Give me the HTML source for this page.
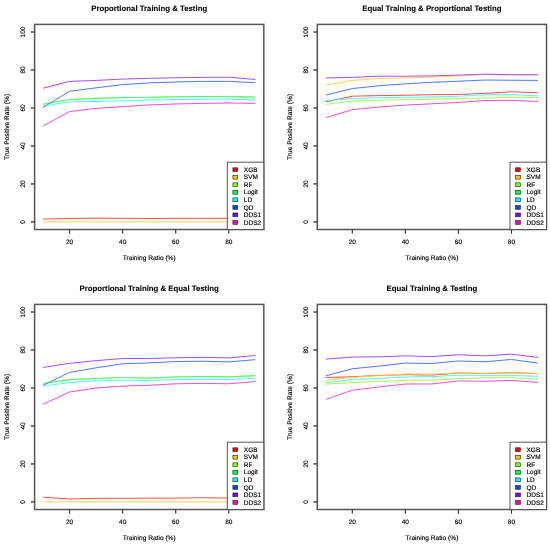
<!DOCTYPE html>
<html><head><meta charset="utf-8"><style>
html,body{margin:0;padding:0;background:#fff;}
svg{display:block;}
text{text-rendering:geometricPrecision;font-family:"Liberation Sans",Arial,sans-serif;fill:#000;stroke:#000;stroke-width:0.15px;}
text.t{stroke-width:0.08px;}
</style></head><body>
<svg width="550" height="546" viewBox="0 0 550 546">

<rect width="550" height="546" fill="#fff"/>
<text x="149.20" y="10.80" class="t" font-size="7.8" font-weight="bold" text-anchor="middle">Proportional Training &amp; Testing</text>
<polyline points="43.09,219.06 69.62,218.49 96.14,218.11 122.67,218.30 149.20,218.49 175.73,218.30 202.26,218.30 228.78,218.30 255.31,218.49" fill="none" stroke="#ff4c4c" stroke-width="1.0" stroke-linejoin="round"/>
<polyline points="43.09,221.90 69.62,221.90 96.14,221.90 122.67,221.90 149.20,221.90 175.73,221.90 202.26,221.90 228.78,221.90 255.31,221.90" fill="none" stroke="#ffd24c" stroke-width="1.0" stroke-linejoin="round"/>
<polyline points="43.09,104.16 69.62,99.79 96.14,98.27 122.67,97.70 149.20,97.32 175.73,96.75 202.26,96.56 228.78,96.56 255.31,98.08" fill="none" stroke="#a6ff4c" stroke-width="1.0" stroke-linejoin="round"/>
<polyline points="43.09,104.16 69.62,99.60 96.14,98.27 122.67,97.70 149.20,97.32 175.73,96.75 202.26,96.56 228.78,96.37 255.31,96.94" fill="none" stroke="#4cff79" stroke-width="1.0" stroke-linejoin="round"/>
<polyline points="43.09,106.06 69.62,101.88 96.14,101.50 122.67,100.74 149.20,99.98 175.73,99.70 202.26,99.22 228.78,99.03 255.31,99.98" fill="none" stroke="#4cffff" stroke-width="1.0" stroke-linejoin="round"/>
<polyline points="43.09,107.39 69.62,91.25 96.14,87.83 122.67,84.60 149.20,82.89 175.73,81.94 202.26,81.37 228.78,81.37 255.31,82.70" fill="none" stroke="#4c79ff" stroke-width="1.0" stroke-linejoin="round"/>
<polyline points="43.09,88.21 69.62,81.37 96.14,80.42 122.67,79.09 149.20,78.33 175.73,77.76 202.26,77.38 228.78,77.19 255.31,79.47" fill="none" stroke="#a64cff" stroke-width="1.0" stroke-linejoin="round"/>
<polyline points="43.09,126.00 69.62,111.57 96.14,108.34 122.67,106.63 149.20,104.92 175.73,103.97 202.26,103.40 228.78,103.02 255.31,103.40" fill="none" stroke="#ff4cd2" stroke-width="1.0" stroke-linejoin="round"/>
<rect x="34.60" y="24.40" width="229.20" height="205.10" fill="none" stroke="#555" stroke-width="1.5"/>
<line x1="69.62" y1="229.50" x2="69.62" y2="233.80" stroke="#333" stroke-width="1.1"/>
<text x="69.62" y="244.00" font-size="6.5" text-anchor="middle">20</text>
<line x1="122.67" y1="229.50" x2="122.67" y2="233.80" stroke="#333" stroke-width="1.1"/>
<text x="122.67" y="244.00" font-size="6.5" text-anchor="middle">40</text>
<line x1="175.73" y1="229.50" x2="175.73" y2="233.80" stroke="#333" stroke-width="1.1"/>
<text x="175.73" y="244.00" font-size="6.5" text-anchor="middle">60</text>
<line x1="228.78" y1="229.50" x2="228.78" y2="233.80" stroke="#333" stroke-width="1.1"/>
<text x="228.78" y="244.00" font-size="6.5" text-anchor="middle">80</text>
<line x1="30.70" y1="221.90" x2="34.60" y2="221.90" stroke="#333" stroke-width="1.3"/>
<text transform="translate(24.80,221.90) rotate(-90)" font-size="6.5" text-anchor="middle">0</text>
<line x1="30.70" y1="183.92" x2="34.60" y2="183.92" stroke="#333" stroke-width="1.3"/>
<text transform="translate(24.80,183.92) rotate(-90)" font-size="6.5" text-anchor="middle">20</text>
<line x1="30.70" y1="145.94" x2="34.60" y2="145.94" stroke="#333" stroke-width="1.3"/>
<text transform="translate(24.80,145.94) rotate(-90)" font-size="6.5" text-anchor="middle">40</text>
<line x1="30.70" y1="107.96" x2="34.60" y2="107.96" stroke="#333" stroke-width="1.3"/>
<text transform="translate(24.80,107.96) rotate(-90)" font-size="6.5" text-anchor="middle">60</text>
<line x1="30.70" y1="69.98" x2="34.60" y2="69.98" stroke="#333" stroke-width="1.3"/>
<text transform="translate(24.80,69.98) rotate(-90)" font-size="6.5" text-anchor="middle">80</text>
<line x1="30.70" y1="32.00" x2="34.60" y2="32.00" stroke="#333" stroke-width="1.3"/>
<text transform="translate(24.80,32.00) rotate(-90)" font-size="6.5" text-anchor="middle">100</text>
<text x="149.20" y="259.80" font-size="6.6" text-anchor="middle">Training Ratio (%)</text>
<text transform="translate(8.80,126.95) rotate(-90)" font-size="6.6" text-anchor="middle">True Positive Rate (%)</text>
<rect x="227.30" y="162.20" width="36.50" height="67.30" fill="#fff" stroke="#555" stroke-width="1"/>
<rect x="232.90" y="167.80" width="4.8" height="3.8" fill="#FF0000" stroke="#222" stroke-width="0.6"/>
<text x="243.80" y="171.90" font-size="6.5">XGB</text>
<rect x="232.90" y="175.33" width="4.8" height="3.8" fill="#FFBF00" stroke="#222" stroke-width="0.6"/>
<text x="243.80" y="179.43" font-size="6.5">SVM</text>
<rect x="232.90" y="182.86" width="4.8" height="3.8" fill="#80FF00" stroke="#222" stroke-width="0.6"/>
<text x="243.80" y="186.96" font-size="6.5">RF</text>
<rect x="232.90" y="190.39" width="4.8" height="3.8" fill="#00FF40" stroke="#222" stroke-width="0.6"/>
<text x="243.80" y="194.49" font-size="6.5">Logit</text>
<rect x="232.90" y="197.92" width="4.8" height="3.8" fill="#00FFFF" stroke="#222" stroke-width="0.6"/>
<text x="243.80" y="202.02" font-size="6.5">LD</text>
<rect x="232.90" y="205.45" width="4.8" height="3.8" fill="#0040FF" stroke="#222" stroke-width="0.6"/>
<text x="243.80" y="209.55" font-size="6.5">QD</text>
<rect x="232.90" y="212.98" width="4.8" height="3.8" fill="#8000FF" stroke="#222" stroke-width="0.6"/>
<text x="243.80" y="217.08" font-size="6.5">DDS1</text>
<rect x="232.90" y="220.51" width="4.8" height="3.8" fill="#FF00BF" stroke="#222" stroke-width="0.6"/>
<text x="243.80" y="224.61" font-size="6.5">DDS2</text>
<text x="431.90" y="10.80" class="t" font-size="7.8" font-weight="bold" text-anchor="middle">Equal Training &amp; Proportional Testing</text>
<polyline points="325.79,101.88 352.32,96.19 378.84,95.62 405.37,95.24 431.90,94.67 458.43,94.48 484.96,93.34 511.48,91.82 538.01,92.77" fill="none" stroke="#ff4c4c" stroke-width="1.0" stroke-linejoin="round"/>
<polyline points="325.79,84.98 352.32,80.42 378.84,78.52 405.37,77.95 431.90,77.19 458.43,75.86 484.96,74.54 511.48,74.92 538.01,74.92" fill="none" stroke="#ffd24c" stroke-width="1.0" stroke-linejoin="round"/>
<polyline points="325.79,104.35 352.32,101.12 378.84,100.36 405.37,99.60 431.90,99.22 458.43,98.46 484.96,98.08 511.48,97.32 538.01,97.70" fill="none" stroke="#a6ff4c" stroke-width="1.0" stroke-linejoin="round"/>
<polyline points="325.79,100.55 352.32,98.46 378.84,97.70 405.37,97.32 431.90,96.94 458.43,96.19 484.96,94.86 511.48,94.67 538.01,95.81" fill="none" stroke="#4cffff" stroke-width="1.0" stroke-linejoin="round"/>
<polyline points="325.79,95.05 352.32,88.59 378.84,85.74 405.37,83.84 431.90,82.32 458.43,81.18 484.96,80.04 511.48,80.23 538.01,80.42" fill="none" stroke="#4c79ff" stroke-width="1.0" stroke-linejoin="round"/>
<polyline points="325.79,77.95 352.32,77.38 378.84,76.24 405.37,76.24 431.90,75.86 458.43,75.11 484.96,74.16 511.48,74.73 538.01,74.73" fill="none" stroke="#a64cff" stroke-width="1.0" stroke-linejoin="round"/>
<polyline points="325.79,117.64 352.32,109.67 378.84,107.01 405.37,105.11 431.90,103.78 458.43,102.45 484.96,100.55 511.48,100.36 538.01,101.50" fill="none" stroke="#ff4cd2" stroke-width="1.0" stroke-linejoin="round"/>
<rect x="317.30" y="24.40" width="229.20" height="205.10" fill="none" stroke="#555" stroke-width="1.5"/>
<line x1="352.32" y1="229.50" x2="352.32" y2="233.80" stroke="#333" stroke-width="1.1"/>
<text x="352.32" y="244.00" font-size="6.5" text-anchor="middle">20</text>
<line x1="405.37" y1="229.50" x2="405.37" y2="233.80" stroke="#333" stroke-width="1.1"/>
<text x="405.37" y="244.00" font-size="6.5" text-anchor="middle">40</text>
<line x1="458.43" y1="229.50" x2="458.43" y2="233.80" stroke="#333" stroke-width="1.1"/>
<text x="458.43" y="244.00" font-size="6.5" text-anchor="middle">60</text>
<line x1="511.48" y1="229.50" x2="511.48" y2="233.80" stroke="#333" stroke-width="1.1"/>
<text x="511.48" y="244.00" font-size="6.5" text-anchor="middle">80</text>
<line x1="313.40" y1="221.90" x2="317.30" y2="221.90" stroke="#333" stroke-width="1.3"/>
<text transform="translate(307.50,221.90) rotate(-90)" font-size="6.5" text-anchor="middle">0</text>
<line x1="313.40" y1="183.92" x2="317.30" y2="183.92" stroke="#333" stroke-width="1.3"/>
<text transform="translate(307.50,183.92) rotate(-90)" font-size="6.5" text-anchor="middle">20</text>
<line x1="313.40" y1="145.94" x2="317.30" y2="145.94" stroke="#333" stroke-width="1.3"/>
<text transform="translate(307.50,145.94) rotate(-90)" font-size="6.5" text-anchor="middle">40</text>
<line x1="313.40" y1="107.96" x2="317.30" y2="107.96" stroke="#333" stroke-width="1.3"/>
<text transform="translate(307.50,107.96) rotate(-90)" font-size="6.5" text-anchor="middle">60</text>
<line x1="313.40" y1="69.98" x2="317.30" y2="69.98" stroke="#333" stroke-width="1.3"/>
<text transform="translate(307.50,69.98) rotate(-90)" font-size="6.5" text-anchor="middle">80</text>
<line x1="313.40" y1="32.00" x2="317.30" y2="32.00" stroke="#333" stroke-width="1.3"/>
<text transform="translate(307.50,32.00) rotate(-90)" font-size="6.5" text-anchor="middle">100</text>
<text x="431.90" y="259.80" font-size="6.6" text-anchor="middle">Training Ratio (%)</text>
<text transform="translate(291.50,126.95) rotate(-90)" font-size="6.6" text-anchor="middle">True Positive Rate (%)</text>
<rect x="510.00" y="162.20" width="36.50" height="67.30" fill="#fff" stroke="#555" stroke-width="1"/>
<rect x="515.60" y="167.80" width="4.8" height="3.8" fill="#FF0000" stroke="#222" stroke-width="0.6"/>
<text x="526.50" y="171.90" font-size="6.5">XGB</text>
<rect x="515.60" y="175.33" width="4.8" height="3.8" fill="#FFBF00" stroke="#222" stroke-width="0.6"/>
<text x="526.50" y="179.43" font-size="6.5">SVM</text>
<rect x="515.60" y="182.86" width="4.8" height="3.8" fill="#80FF00" stroke="#222" stroke-width="0.6"/>
<text x="526.50" y="186.96" font-size="6.5">RF</text>
<rect x="515.60" y="190.39" width="4.8" height="3.8" fill="#00FF40" stroke="#222" stroke-width="0.6"/>
<text x="526.50" y="194.49" font-size="6.5">Logit</text>
<rect x="515.60" y="197.92" width="4.8" height="3.8" fill="#00FFFF" stroke="#222" stroke-width="0.6"/>
<text x="526.50" y="202.02" font-size="6.5">LD</text>
<rect x="515.60" y="205.45" width="4.8" height="3.8" fill="#0040FF" stroke="#222" stroke-width="0.6"/>
<text x="526.50" y="209.55" font-size="6.5">QD</text>
<rect x="515.60" y="212.98" width="4.8" height="3.8" fill="#8000FF" stroke="#222" stroke-width="0.6"/>
<text x="526.50" y="217.08" font-size="6.5">DDS1</text>
<rect x="515.60" y="220.51" width="4.8" height="3.8" fill="#FF00BF" stroke="#222" stroke-width="0.6"/>
<text x="526.50" y="224.61" font-size="6.5">DDS2</text>
<text x="149.20" y="290.80" class="t" font-size="7.8" font-weight="bold" text-anchor="middle">Proportional Training &amp; Equal Testing</text>
<polyline points="43.09,497.16 69.62,499.06 96.14,498.30 122.67,498.30 149.20,498.11 175.73,498.11 202.26,497.73 228.78,498.11 255.31,498.11" fill="none" stroke="#ff4c4c" stroke-width="1.0" stroke-linejoin="round"/>
<polyline points="43.09,501.90 69.62,501.90 96.14,501.90 122.67,501.90 149.20,501.90 175.73,501.90 202.26,501.90 228.78,501.90 255.31,501.90" fill="none" stroke="#ffd24c" stroke-width="1.0" stroke-linejoin="round"/>
<polyline points="43.09,383.59 69.62,379.79 96.14,378.46 122.67,377.51 149.20,378.27 175.73,376.94 202.26,376.56 228.78,376.94 255.31,375.81" fill="none" stroke="#a6ff4c" stroke-width="1.0" stroke-linejoin="round"/>
<polyline points="43.09,383.40 69.62,379.60 96.14,378.46 122.67,377.51 149.20,378.08 175.73,376.94 202.26,376.56 228.78,376.75 255.31,375.62" fill="none" stroke="#4cff79" stroke-width="1.0" stroke-linejoin="round"/>
<polyline points="43.09,386.06 69.62,382.45 96.14,380.74 122.67,380.17 149.20,380.55 175.73,379.60 202.26,379.22 228.78,379.70 255.31,378.08" fill="none" stroke="#4cffff" stroke-width="1.0" stroke-linejoin="round"/>
<polyline points="43.09,385.30 69.62,372.39 96.14,367.83 122.67,363.75 149.20,362.89 175.73,361.56 202.26,361.18 228.78,361.94 255.31,359.66" fill="none" stroke="#4c79ff" stroke-width="1.0" stroke-linejoin="round"/>
<polyline points="43.09,367.45 69.62,363.27 96.14,360.61 122.67,358.52 149.20,358.52 175.73,357.76 202.26,357.38 228.78,357.95 255.31,355.49" fill="none" stroke="#a64cff" stroke-width="1.0" stroke-linejoin="round"/>
<polyline points="43.09,404.29 69.62,391.95 96.14,387.96 122.67,386.06 149.20,385.30 175.73,383.78 202.26,383.40 228.78,383.78 255.31,381.60" fill="none" stroke="#ff4cd2" stroke-width="1.0" stroke-linejoin="round"/>
<rect x="34.60" y="304.40" width="229.20" height="205.10" fill="none" stroke="#555" stroke-width="1.5"/>
<line x1="69.62" y1="509.50" x2="69.62" y2="513.80" stroke="#333" stroke-width="1.1"/>
<text x="69.62" y="524.00" font-size="6.5" text-anchor="middle">20</text>
<line x1="122.67" y1="509.50" x2="122.67" y2="513.80" stroke="#333" stroke-width="1.1"/>
<text x="122.67" y="524.00" font-size="6.5" text-anchor="middle">40</text>
<line x1="175.73" y1="509.50" x2="175.73" y2="513.80" stroke="#333" stroke-width="1.1"/>
<text x="175.73" y="524.00" font-size="6.5" text-anchor="middle">60</text>
<line x1="228.78" y1="509.50" x2="228.78" y2="513.80" stroke="#333" stroke-width="1.1"/>
<text x="228.78" y="524.00" font-size="6.5" text-anchor="middle">80</text>
<line x1="30.70" y1="501.90" x2="34.60" y2="501.90" stroke="#333" stroke-width="1.3"/>
<text transform="translate(24.80,501.90) rotate(-90)" font-size="6.5" text-anchor="middle">0</text>
<line x1="30.70" y1="463.92" x2="34.60" y2="463.92" stroke="#333" stroke-width="1.3"/>
<text transform="translate(24.80,463.92) rotate(-90)" font-size="6.5" text-anchor="middle">20</text>
<line x1="30.70" y1="425.94" x2="34.60" y2="425.94" stroke="#333" stroke-width="1.3"/>
<text transform="translate(24.80,425.94) rotate(-90)" font-size="6.5" text-anchor="middle">40</text>
<line x1="30.70" y1="387.96" x2="34.60" y2="387.96" stroke="#333" stroke-width="1.3"/>
<text transform="translate(24.80,387.96) rotate(-90)" font-size="6.5" text-anchor="middle">60</text>
<line x1="30.70" y1="349.98" x2="34.60" y2="349.98" stroke="#333" stroke-width="1.3"/>
<text transform="translate(24.80,349.98) rotate(-90)" font-size="6.5" text-anchor="middle">80</text>
<line x1="30.70" y1="312.00" x2="34.60" y2="312.00" stroke="#333" stroke-width="1.3"/>
<text transform="translate(24.80,312.00) rotate(-90)" font-size="6.5" text-anchor="middle">100</text>
<text x="149.20" y="539.80" font-size="6.6" text-anchor="middle">Training Ratio (%)</text>
<text transform="translate(8.80,406.95) rotate(-90)" font-size="6.6" text-anchor="middle">True Positive Rate (%)</text>
<rect x="227.30" y="442.20" width="36.50" height="67.30" fill="#fff" stroke="#555" stroke-width="1"/>
<rect x="232.90" y="447.80" width="4.8" height="3.8" fill="#FF0000" stroke="#222" stroke-width="0.6"/>
<text x="243.80" y="451.90" font-size="6.5">XGB</text>
<rect x="232.90" y="455.33" width="4.8" height="3.8" fill="#FFBF00" stroke="#222" stroke-width="0.6"/>
<text x="243.80" y="459.43" font-size="6.5">SVM</text>
<rect x="232.90" y="462.86" width="4.8" height="3.8" fill="#80FF00" stroke="#222" stroke-width="0.6"/>
<text x="243.80" y="466.96" font-size="6.5">RF</text>
<rect x="232.90" y="470.39" width="4.8" height="3.8" fill="#00FF40" stroke="#222" stroke-width="0.6"/>
<text x="243.80" y="474.49" font-size="6.5">Logit</text>
<rect x="232.90" y="477.92" width="4.8" height="3.8" fill="#00FFFF" stroke="#222" stroke-width="0.6"/>
<text x="243.80" y="482.02" font-size="6.5">LD</text>
<rect x="232.90" y="485.45" width="4.8" height="3.8" fill="#0040FF" stroke="#222" stroke-width="0.6"/>
<text x="243.80" y="489.55" font-size="6.5">QD</text>
<rect x="232.90" y="492.98" width="4.8" height="3.8" fill="#8000FF" stroke="#222" stroke-width="0.6"/>
<text x="243.80" y="497.08" font-size="6.5">DDS1</text>
<rect x="232.90" y="500.51" width="4.8" height="3.8" fill="#FF00BF" stroke="#222" stroke-width="0.6"/>
<text x="243.80" y="504.61" font-size="6.5">DDS2</text>
<text x="431.90" y="290.80" class="t" font-size="7.8" font-weight="bold" text-anchor="middle">Equal Training &amp; Testing</text>
<polyline points="325.79,377.51 352.32,376.75 378.84,375.43 405.37,374.67 431.90,375.05 458.43,372.96 484.96,373.53 511.48,372.58 538.01,373.72" fill="none" stroke="#ff4c4c" stroke-width="1.0" stroke-linejoin="round"/>
<polyline points="325.79,380.36 352.32,377.32 378.84,375.81 405.37,373.91 431.90,374.10 458.43,372.96 484.96,373.34 511.48,372.77 538.01,373.53" fill="none" stroke="#ffd24c" stroke-width="1.0" stroke-linejoin="round"/>
<polyline points="325.79,384.16 352.32,382.45 378.84,381.50 405.37,380.36 431.90,380.17 458.43,378.65 484.96,377.89 511.48,377.70 538.01,379.22" fill="none" stroke="#a6ff4c" stroke-width="1.0" stroke-linejoin="round"/>
<polyline points="325.79,382.83 352.32,379.41 378.84,378.46 405.37,376.94 431.90,376.56 458.43,375.24 484.96,375.43 511.48,375.24 538.01,376.37" fill="none" stroke="#4cffff" stroke-width="1.0" stroke-linejoin="round"/>
<polyline points="325.79,375.81 352.32,368.78 378.84,366.12 405.37,363.08 431.90,363.46 458.43,360.99 484.96,361.75 511.48,359.47 538.01,363.08" fill="none" stroke="#4c79ff" stroke-width="1.0" stroke-linejoin="round"/>
<polyline points="325.79,359.09 352.32,357.10 378.84,356.81 405.37,355.86 431.90,356.62 458.43,354.73 484.96,355.86 511.48,354.16 538.01,357.38" fill="none" stroke="#a64cff" stroke-width="1.0" stroke-linejoin="round"/>
<polyline points="325.79,399.35 352.32,390.24 378.84,387.01 405.37,383.97 431.90,383.97 458.43,380.93 484.96,381.31 511.48,380.36 538.01,382.45" fill="none" stroke="#ff4cd2" stroke-width="1.0" stroke-linejoin="round"/>
<rect x="317.30" y="304.40" width="229.20" height="205.10" fill="none" stroke="#555" stroke-width="1.5"/>
<line x1="352.32" y1="509.50" x2="352.32" y2="513.80" stroke="#333" stroke-width="1.1"/>
<text x="352.32" y="524.00" font-size="6.5" text-anchor="middle">20</text>
<line x1="405.37" y1="509.50" x2="405.37" y2="513.80" stroke="#333" stroke-width="1.1"/>
<text x="405.37" y="524.00" font-size="6.5" text-anchor="middle">40</text>
<line x1="458.43" y1="509.50" x2="458.43" y2="513.80" stroke="#333" stroke-width="1.1"/>
<text x="458.43" y="524.00" font-size="6.5" text-anchor="middle">60</text>
<line x1="511.48" y1="509.50" x2="511.48" y2="513.80" stroke="#333" stroke-width="1.1"/>
<text x="511.48" y="524.00" font-size="6.5" text-anchor="middle">80</text>
<line x1="313.40" y1="501.90" x2="317.30" y2="501.90" stroke="#333" stroke-width="1.3"/>
<text transform="translate(307.50,501.90) rotate(-90)" font-size="6.5" text-anchor="middle">0</text>
<line x1="313.40" y1="463.92" x2="317.30" y2="463.92" stroke="#333" stroke-width="1.3"/>
<text transform="translate(307.50,463.92) rotate(-90)" font-size="6.5" text-anchor="middle">20</text>
<line x1="313.40" y1="425.94" x2="317.30" y2="425.94" stroke="#333" stroke-width="1.3"/>
<text transform="translate(307.50,425.94) rotate(-90)" font-size="6.5" text-anchor="middle">40</text>
<line x1="313.40" y1="387.96" x2="317.30" y2="387.96" stroke="#333" stroke-width="1.3"/>
<text transform="translate(307.50,387.96) rotate(-90)" font-size="6.5" text-anchor="middle">60</text>
<line x1="313.40" y1="349.98" x2="317.30" y2="349.98" stroke="#333" stroke-width="1.3"/>
<text transform="translate(307.50,349.98) rotate(-90)" font-size="6.5" text-anchor="middle">80</text>
<line x1="313.40" y1="312.00" x2="317.30" y2="312.00" stroke="#333" stroke-width="1.3"/>
<text transform="translate(307.50,312.00) rotate(-90)" font-size="6.5" text-anchor="middle">100</text>
<text x="431.90" y="539.80" font-size="6.6" text-anchor="middle">Training Ratio (%)</text>
<text transform="translate(291.50,406.95) rotate(-90)" font-size="6.6" text-anchor="middle">True Positive Rate (%)</text>
<rect x="510.00" y="442.20" width="36.50" height="67.30" fill="#fff" stroke="#555" stroke-width="1"/>
<rect x="515.60" y="447.80" width="4.8" height="3.8" fill="#FF0000" stroke="#222" stroke-width="0.6"/>
<text x="526.50" y="451.90" font-size="6.5">XGB</text>
<rect x="515.60" y="455.33" width="4.8" height="3.8" fill="#FFBF00" stroke="#222" stroke-width="0.6"/>
<text x="526.50" y="459.43" font-size="6.5">SVM</text>
<rect x="515.60" y="462.86" width="4.8" height="3.8" fill="#80FF00" stroke="#222" stroke-width="0.6"/>
<text x="526.50" y="466.96" font-size="6.5">RF</text>
<rect x="515.60" y="470.39" width="4.8" height="3.8" fill="#00FF40" stroke="#222" stroke-width="0.6"/>
<text x="526.50" y="474.49" font-size="6.5">Logit</text>
<rect x="515.60" y="477.92" width="4.8" height="3.8" fill="#00FFFF" stroke="#222" stroke-width="0.6"/>
<text x="526.50" y="482.02" font-size="6.5">LD</text>
<rect x="515.60" y="485.45" width="4.8" height="3.8" fill="#0040FF" stroke="#222" stroke-width="0.6"/>
<text x="526.50" y="489.55" font-size="6.5">QD</text>
<rect x="515.60" y="492.98" width="4.8" height="3.8" fill="#8000FF" stroke="#222" stroke-width="0.6"/>
<text x="526.50" y="497.08" font-size="6.5">DDS1</text>
<rect x="515.60" y="500.51" width="4.8" height="3.8" fill="#FF00BF" stroke="#222" stroke-width="0.6"/>
<text x="526.50" y="504.61" font-size="6.5">DDS2</text>

</svg>
</body></html>
